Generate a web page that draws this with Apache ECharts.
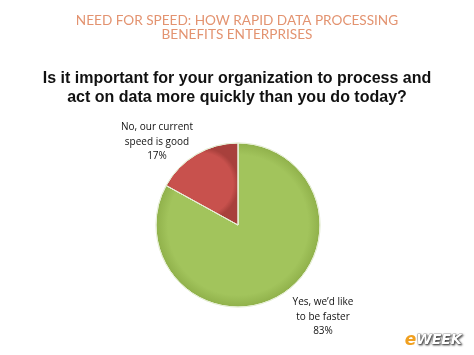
<!DOCTYPE html>
<html>
<head>
<meta charset="utf-8">
<script src="https://cdn.jsdelivr.net/npm/echarts@6/dist/echarts.min.js"></script>
<style>
  html, body { margin: 0; padding: 0; background: #fff; }
  #chart { width: 474px; height: 355px; }
</style>
</head>
<body>
<div id="chart"></div>
<script>
const categories = ['Yes, we\u2019d like\nto be faster', 'No, our current\nspeed is good'];
const values = [83, 17];
const colors = ['#a2c45c', '#c8514d'];
const edges = ['#8fb04a', '#a8403c'];

const chart = echarts.init(document.getElementById('chart'));

// label spots, relative to the pie centre
const labelOffsets = [[85, 92], [-81, -83]];

const option = {
  backgroundColor: '#fff',
  title: [
    {
      text: 'NEED FOR SPEED: HOW RAPID DATA PROCESSING\nBENEFITS ENTERPRISES',
      left: 'center',
      top: 9,
      textStyle: {
        color: '#e39370',
        fontFamily: 'Lato',
        fontWeight: 'normal',
        fontSize: 13.6,
        lineHeight: 14
      }
    },
    {
      text: 'Is it important for your organization to process and\nact on data more quickly than you do today?',
      left: 'center',
      top: 64,
      textStyle: {
        color: '#111',
        fontFamily: 'Liberation Sans',
        fontWeight: 'bold',
        fontSize: 16,
        lineHeight: 19
      }
    }
  ],
  series: [{
    type: 'pie',
    center: [238, 225],
    radius: 82,
    startAngle: 90,
    clockwise: true,
    label: {
      show: true,
      position: 'outside',
      formatter: p => p.name + '\n' + p.value + '%',
      color: '#111',
      fontFamily: 'Open Sans',
      fontSize: 10,
      lineHeight: 14.5,
      align: 'center'
    },
    labelLine: { show: false },
    labelLayout: p => ({
      x: 238 + labelOffsets[p.dataIndex][0],
      y: 225 + labelOffsets[p.dataIndex][1],
      align: 'center',
      verticalAlign: 'middle'
    }),
    emphasis: { disabled: true },
    data: categories.map((c, i) => ({
      name: c,
      value: values[i],
      itemStyle: {
        color: {
          type: 'radial', x: 0.5, y: 0.5, r: 0.5,
          colorStops: [
            { offset: 0, color: colors[i] },
            { offset: 0.85, color: colors[i] },
            { offset: 1, color: edges[i] }
          ]
        },
        borderColor: '#e8f0d8',
        borderWidth: 1
      }
    }))
  }],
  graphic: [
    {
      type: 'text',
      right: 12,
      bottom: 6,
      style: {
        rich: {
          e: { fill: '#f0a020', fontSize: 17, fontWeight: 'bold', fontStyle: 'italic', fontFamily: 'DejaVu Sans' },
          w: { fill: '#fff', fontSize: 14, fontWeight: 'bold', fontStyle: 'italic', fontFamily: 'DejaVu Sans',
               textShadowColor: 'rgba(0,0,0,0.7)', textShadowBlur: 2, textShadowOffsetX: 1, textShadowOffsetY: 1,
               stroke: '#777', lineWidth: 0.6 }
        },
        text: '{e|e}{w|WEEK}'
      }
    }
  ]
};

chart.setOption(option);
</script>
</body>
</html>
